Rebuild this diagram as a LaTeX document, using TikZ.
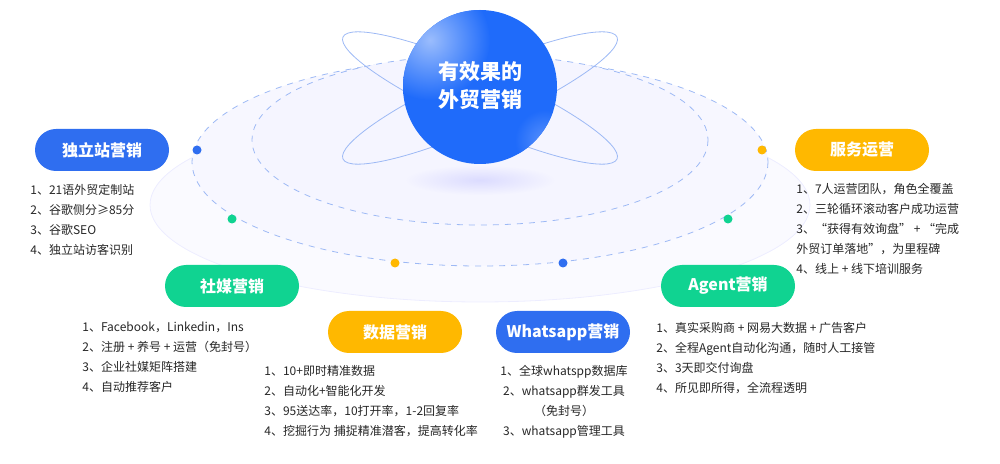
\documentclass[tikz,border=0pt]{standalone}
\usepackage{fontspec}
\setmainfont{Noto Sans CJK SC}
\usetikzlibrary{shadings}
\definecolor{bl}{HTML}{2F6EF0}
\definecolor{sb}{HTML}{1F6BFA}
\definecolor{gr}{HTML}{10D391}
\definecolor{og}{HTML}{FFB800}
\definecolor{ln}{HTML}{9DB9F5}
\begin{document}
\begin{tikzpicture}[x=0.5pt,y=-0.5pt,
 pill/.style={rounded corners=10.5pt,minimum width=67pt,minimum height=21pt,text=white,font=\fontsize{8}{9}\selectfont\bfseries,inner sep=0pt},
 lst/.style={anchor=north west,align=left,font=\fontsize{6}{10}\selectfont,text=black!85,inner sep=0pt},
 dot/.style={circle,inner sep=0pt,minimum size=4.5pt}]
\useasboundingbox (0,0) rectangle (1000,464);
\fill[blue!2] (480,205) ellipse [x radius=330,y radius=97];
\draw[blue!7] (480,205) ellipse [x radius=330,y radius=97];
\fill[blue!3] (480,162) ellipse [x radius=288,y radius=104];
\draw[ln,dashed,thin] (480,162) ellipse [x radius=288,y radius=104];
\fill[blue!4] (480,140) ellipse [x radius=228,y radius=85];
\draw[ln,dashed,thin] (480,140) ellipse [x radius=228,y radius=85];
\shade[inner color=blue!14,outer color=blue!4] (480,180) ellipse [x radius=75,y radius=15];
\draw[ln,thin,rotate around={-24:(480,98)}] (480,98) ellipse [x radius=150,y radius=28];
\draw[ln,thin,rotate around={24:(480,98)}] (480,98) ellipse [x radius=150,y radius=28];
\fill[sb] (480,87) circle[radius=77];
\begin{scope}
\clip (480,87) circle[radius=77];
\shade[inner color=sb!45!white,outer color=sb] (430,40) circle[radius=60];
\shade[inner color=sb!75!white,outer color=sb] (545,140) circle[radius=30];
\end{scope}
\node[text=white,font=\fontsize{10.5}{14}\selectfont\bfseries,align=center] (core) at (480,86) {有效果的\\外贸营销};
\node[dot,fill=bl] (d1) at (197,150) {};
\node[dot,fill=gr] (d2) at (232,219) {};
\node[dot,fill=og] (d3) at (395,263) {};
\node[dot,fill=bl] (d4) at (563,263) {};
\node[dot,fill=gr] (d5) at (728,219) {};
\node[dot,fill=og] (d6) at (762,150) {};
\node[pill,fill=bl] (p1) at (102,150) {独立站营销};
\node[pill,fill=gr] (p2) at (232,286) {社媒营销};
\node[pill,fill=og] (p3) at (395,332) {数据营销};
\node[pill,fill=bl] (p4) at (563,332) {Whatsapp营销};
\node[pill,fill=gr] (p5) at (728,286) {Agent营销};
\node[pill,fill=og] (p6) at (862,150) {服务运营};
\node[lst] (l1) at (30,184) {1、21语外贸定制站\\2、谷歌侧分≥85分\\3、谷歌SEO\\4、独立站访客识别};
\node[lst] (l2) at (82,322) {1、Facebook，Linkedin，Ins\\2、注册 + 养号 + 运营（免封号）\\3、企业社媒矩阵搭建\\4、自动推荐客户};
\node[lst] (l3) at (264,365) {1、10+即时精准数据\\2、自动化+智能化开发\\3、95送达率，10打开率，1-2回复率\\4、挖掘行为 捕捉精准潜客，提高转化率};
\node[lst,anchor=north,align=center] (l4) at (564,365) {1、全球whatspp数据库\\2、whatsapp群发工具\\（免封号）\\3、whatsapp管理工具};
\node[lst] (l5) at (656,322) {1、真实采购商 + 网易大数据 + 广告客户\\2、全程Agent自动化沟通，随时人工接管\\3、3天即交付询盘\\4、所见即所得，全流程透明};
\node[lst] (l6) at (796,183) {1、7人运营团队，角色全覆盖\\2、三轮循环滚动客户成功运营\\3、“获得有效询盘” + “完成\\外贸订单落地”，为里程碑\\4、线上 + 线下培训服务};
\end{tikzpicture}
\end{document}
